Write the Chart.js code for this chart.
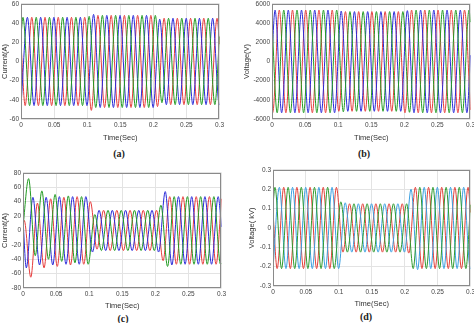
<!DOCTYPE html>
<html>
<head>
<meta charset="utf-8">
<script src="https://cdn.jsdelivr.net/npm/chart.js@4.4.0/dist/chart.umd.min.js"></script>
<style>
html, body { margin: 0; padding: 0; width: 474px; height: 323px; overflow: hidden; background: #fff; }
.panel { position: absolute; }
.cap { position: absolute; font: bold 10px "Liberation Serif", serif; color: #222; transform: translate(-50%, -50%); white-space: nowrap; }
</style>
</head>
<body>
<div class="panel" id="panelA"><canvas id="chartA"></canvas></div>
<div class="panel" id="panelB"><canvas id="chartB"></canvas></div>
<div class="panel" id="panelC"><canvas id="chartC"></canvas></div>
<div class="panel" id="panelD"><canvas id="chartD"></canvas></div>
<div class="cap" style="left:119px;top:153px">(a)</div>
<div class="cap" style="left:364px;top:153px">(b)</div>
<div class="cap" style="left:123px;top:318px">(c)</div>
<div class="cap" style="left:366px;top:316px">(d)</div>
<script>
// shared time axis (seconds), 50 Hz -> one extreme every half cycle
const timeTicks = [0, 0.05, 0.1, 0.15, 0.2, 0.25, 0.3];
const timeLabels = ['0', '0.05', '0.1', '0.15', '0.2', '0.25', '0.3'];
const halfCycle = 0.01;

// y axis ticks per panel
const ticksA = [-60, -40, -20, 0, 20, 40, 60];
const ticksB = [-6000, -4000, -2000, 0, 2000, 4000, 6000];
const ticksC = [-80, -60, -40, -20, 0, 20, 40, 60, 80];
const ticksD = [-0.3, -0.2, -0.1, 0, 0.1, 0.2, 0.3];
const labelsD = ['-0.3', '-0.2', '-0.1', '0', '0.1', '0.2', '0.3'];

// time of the first extreme of each phase [green, blue, red]
const firstPeakA = [0.003, 0.0097, 0.0063];
const firstPeakB = [0.0078, 0.0046, 0.001];
const firstPeakC = [0.0085, 0.005, 0.0018];
const firstPeakD = [0.003, 0.0097, 0.0063];

// each phase: value at t=0, the 30 half-cycle extremes, value at t=0.3
// (a) load current
const aGreen = [27,
  46, -46, 46, -46, 46, -46, 46, -46, 46, -46,
  47, -48, 48, -48, 48, -48, 48, -48, 48, -48,
  48, -43, 45, -45, 45, -45, 45, -45, 45, -45,
  26];
const aBlue = [-46,
  46, -46, 46, -46, 46, -46, 46, -46, 46, -46,
  49, -48, 48, -48, 48, -48, 48, -48, 48, -48,
  44, -45, 45, -45, 45, -45, 45, -45, 45, -45,
  -45];
const aRed = [18,
  -46, 46, -46, 46, -46, 46, -46, 46, -46, 46,
  -51, 48, -48, 48, -48, 48, -48, 48, -48, 48,
  -47, 45, -45, 45, -45, 45, -45, 45, -45, 45,
  18];

// (b) voltage
const bGreen = [4100,
  -5350, 5350, -5350, 5350, -5350, 5350, -5350, 5350, -5350, 5350,
  -5250, 5200, -5200, 5200, -5200, 5200, -5200, 5200, -5200, 5200,
  -5300, 5350, -5350, 5350, -5350, 5350, -5350, 5350, -5350, 5350,
  4100];
const bBlue = [650,
  5350, -5350, 5350, -5350, 5350, -5350, 5350, -5350, 5350, -5350,
  5250, -5200, 5200, -5200, 5200, -5200, 5200, -5200, 5200, -5200,
  5300, -5350, 5350, -5350, 5350, -5350, 5350, -5350, 5350, -5350,
  650];
const bRed = [-5300,
  -5350, 5350, -5350, 5350, -5350, 5350, -5350, 5350, -5350, 5350,
  -5200, 5200, -5200, 5200, -5200, 5200, -5200, 5200, -5200, 5200,
  -5350, 5350, -5350, 5350, -5350, 5350, -5350, 5350, -5350, 5350,
  -5050];

// (c) current with start-up and load steps
const cGreen = [5,
  72, -35, 55, -40, 50, -43, 48, -45, 47, -47,
  22, -28, 28, -28, 28, -28, 28, -28, 28, -28,
  35, -50, 47, -47, 47, -47, 47, -47, 47, -47,
  -46];
const cBlue = [15,
  -52, 46, -48, 46, -48, 47, -47, 47, -47, 47,
  -30, 28, -28, 28, -28, 28, -28, 28, -28, 28,
  -30, 54, -48, 47, -47, 47, -47, 47, -47, 47,
  5];
const cRed = [10,
  14, -65, 38, -52, 44, -50, 46, -48, 47, -47,
  40, -26, 28, -28, 28, -28, 28, -28, 28, -28,
  28, -42, 47, -47, 47, -47, 47, -47, 47, -47,
  44];

// (d) voltage in kV
const dGreen = [0.12,
  0.21, -0.21, 0.21, -0.21, 0.21, -0.21, 0.21, -0.21, 0.21, -0.21,
  0.135, -0.125, 0.125, -0.125, 0.125, -0.125, 0.125, -0.125, 0.125, -0.125,
  0.125, -0.21, 0.21, -0.21, 0.21, -0.21, 0.21, -0.21, 0.21, -0.21,
  0.12];
const dBlue = [-0.21,
  0.21, -0.21, 0.21, -0.21, 0.21, -0.21, 0.21, -0.21, 0.21, -0.21,
  0.13, -0.125, 0.125, -0.125, 0.125, -0.125, 0.125, -0.125, 0.125, -0.125,
  0.2, -0.215, 0.21, -0.21, 0.21, -0.21, 0.21, -0.21, 0.21, -0.21,
  -0.21];
const dRed = [0.08,
  -0.21, 0.21, -0.21, 0.21, -0.21, 0.21, -0.21, 0.21, -0.21, 0.21,
  -0.125, 0.125, -0.125, 0.125, -0.125, 0.125, -0.125, 0.125, -0.125, 0.125,
  -0.13, 0.21, -0.21, 0.21, -0.21, 0.21, -0.21, 0.21, -0.21, 0.21,
  0.08];

const colorsRGB = ['#229a22', '#2a2ad8', '#e63c3c'];
const colorsD = ['#2f9a2f', '#3a9fe0', '#e2403a'];

const FONT = "'Liberation Sans', Arial, sans-serif";

// draw the full box around the plot like the original figure
const boxPlugin = {
    id: 'box',
    afterDraw(chart) {
        const a = chart.chartArea;
        const ctx = chart.ctx;
        ctx.save();
        ctx.strokeStyle = '#8a8a8a';
        ctx.lineWidth = 1;
        ctx.strokeRect(Math.round(a.left) + 0.5, Math.round(a.top) + 0.5,
            Math.round(a.right - a.left) - 1, Math.round(a.bottom - a.top) - 1);
        ctx.restore();
    }
};

function phasePoints(vals, tFirst) {
    const pts = [{ x: 0, y: vals[0] }];
    for (let k = 1; k < vals.length - 1; k++) {
        pts.push({ x: tFirst + (k - 1) * halfCycle, y: vals[k] });
    }
    pts.push({ x: 0.3, y: vals[vals.length - 1] });
    return pts;
}

function makePanel(opts) {
    const holder = document.getElementById(opts.holder);
    holder.style.left = opts.left + 'px';
    holder.style.top = opts.top + 'px';
    const canvas = document.getElementById(opts.canvas);
    canvas.width = opts.width;
    canvas.height = opts.height;
    canvas.style.width = opts.width + 'px';
    canvas.style.height = opts.height + 'px';

    const datasets = opts.series.map((vals, i) => ({
        data: phasePoints(vals, opts.firstPeak[i]),
        borderColor: opts.colors[i],
        borderWidth: 1,
        pointRadius: 0,
        cubicInterpolationMode: 'monotone',
        fill: false
    }));

    new Chart(canvas.getContext('2d'), {
        type: 'line',
        data: { datasets: datasets },
        plugins: [boxPlugin],
        options: {
            responsive: false,
            animation: false,
            events: [],
            layout: { padding: 0 },
            plugins: { legend: { display: false }, tooltip: { enabled: false } },
            scales: {
                x: {
                    type: 'linear',
                    min: 0,
                    max: 0.3,
                    afterBuildTicks: s => { s.ticks = timeTicks.map(v => ({ value: v })); },
                    afterFit: s => { s.height = opts.xHeight; },
                    ticks: {
                        autoSkip: false,
                        maxRotation: 0,
                        padding: 2,
                        color: '#444',
                        font: { family: FONT, size: 6.5 },
                        callback: (v, i) => timeLabels[i]
                    },
                    grid: { color: '#e3e3e3', drawTicks: false },
                    border: { display: false },
                    title: {
                        display: true,
                        text: 'Time(Sec)',
                        color: '#333',
                        padding: 0,
                        font: { family: FONT, size: 7.5 }
                    }
                },
                y: {
                    type: 'linear',
                    min: opts.yTicks[0],
                    max: opts.yTicks[opts.yTicks.length - 1],
                    afterBuildTicks: s => { s.ticks = opts.yTicks.map(v => ({ value: v })); },
                    afterFit: s => { s.width = opts.yWidth; },
                    ticks: {
                        autoSkip: false,
                        padding: 2,
                        color: '#444',
                        font: { family: FONT, size: 6.5 },
                        callback: (v, i) => opts.yLabels ? opts.yLabels[i] : String(opts.yTicks[i])
                    },
                    grid: { color: '#e3e3e3', drawTicks: false },
                    border: { display: false },
                    title: {
                        display: true,
                        text: opts.yTitle,
                        color: '#333',
                        padding: 0,
                        font: { family: FONT, size: 7.5 }
                    }
                }
            }
        }
    });
}

makePanel({
    holder: 'panelA', canvas: 'chartA', left: 0, top: -2, width: 226, height: 144,
    yWidth: 21, xHeight: 23, yTicks: ticksA, yTitle: 'Current(A)',
    series: [aGreen, aBlue, aRed], firstPeak: firstPeakA, colors: colorsRGB
});
makePanel({
    holder: 'panelB', canvas: 'chartB', left: 242, top: -2, width: 235, height: 144,
    yWidth: 30, xHeight: 23, yTicks: ticksB, yTitle: 'Voltage(V)',
    series: [bGreen, bBlue, bRed], firstPeak: firstPeakB, colors: colorsRGB
});
makePanel({
    holder: 'panelC', canvas: 'chartC', left: 0, top: 167, width: 228, height: 143,
    yWidth: 23, xHeight: 22, yTicks: ticksC, yTitle: 'Current(A)',
    series: [cGreen, cBlue, cRed], firstPeak: firstPeakC, colors: colorsRGB
});
makePanel({
    holder: 'panelD', canvas: 'chartD', left: 247, top: 164, width: 230, height: 144,
    yWidth: 26, xHeight: 22, yTicks: ticksD, yLabels: labelsD, yTitle: 'Voltage( kV)',
    series: [dGreen, dBlue, dRed], firstPeak: firstPeakD, colors: colorsD
});
</script>
</body>
</html>
